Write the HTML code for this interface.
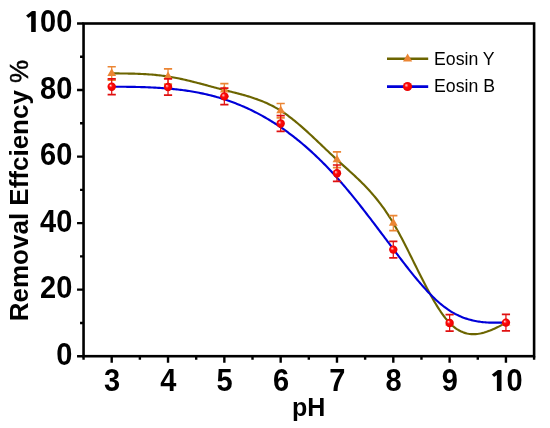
<!DOCTYPE html>
<html><head><meta charset="utf-8"><style>
html,body{margin:0;padding:0;background:#fff;width:550px;height:428px;overflow:hidden}
svg{display:block}
.tl{font-family:"Liberation Sans",Arial,sans-serif;font-weight:bold;font-size:29px;fill:#000}
.al{font-family:"Liberation Sans",Arial,sans-serif;font-weight:bold;font-size:25px;fill:#000}
.o1{font-family:"NanumGothic","Liberation Sans",sans-serif;font-weight:800;font-size:27.1px;fill:#000}
.lg{font-family:"Liberation Sans",Arial,sans-serif;font-size:17.7px;fill:#000}
</style></head><body>
<svg width="550" height="428" viewBox="0 0 550 428">
<defs><radialGradient id="rg" cx="0.5" cy="0.5" r="0.55" fx="0.34" fy="0.34"><stop offset="0" stop-color="#fff0f0"/><stop offset="0.16" stop-color="#ff8080"/><stop offset="0.38" stop-color="#ff0a0a"/><stop offset="1" stop-color="#e40000"/></radialGradient></defs>
<rect width="550" height="428" fill="#fff"/>
<path d="M111.71,73.40 L113.12,73.41 L114.53,73.42 L115.93,73.42 L117.34,73.43 L118.75,73.44 L120.16,73.45 L121.57,73.46 L122.97,73.48 L124.38,73.49 L125.79,73.51 L127.20,73.53 L128.60,73.56 L130.01,73.58 L131.42,73.61 L132.83,73.65 L134.24,73.69 L135.64,73.73 L137.05,73.78 L138.46,73.83 L139.87,73.88 L141.28,73.95 L142.68,74.01 L144.09,74.09 L145.50,74.17 L146.91,74.25 L148.32,74.35 L149.72,74.45 L151.13,74.55 L152.54,74.67 L153.95,74.79 L155.36,74.92 L156.76,75.06 L158.17,75.21 L159.58,75.36 L160.99,75.53 L162.40,75.70 L163.80,75.89 L165.21,76.08 L166.62,76.28 L168.03,76.50 L169.44,76.72 L170.84,76.96 L172.25,77.20 L173.66,77.46 L175.07,77.72 L176.48,78.00 L177.88,78.28 L179.29,78.57 L180.70,78.87 L182.11,79.17 L183.52,79.48 L184.92,79.80 L186.33,80.13 L187.74,80.46 L189.15,80.80 L190.56,81.14 L191.96,81.49 L193.37,81.84 L194.78,82.20 L196.19,82.56 L197.60,82.92 L199.00,83.29 L200.41,83.66 L201.82,84.03 L203.23,84.40 L204.64,84.78 L206.04,85.16 L207.45,85.54 L208.86,85.92 L210.27,86.30 L211.68,86.68 L213.08,87.06 L214.49,87.44 L215.90,87.81 L217.31,88.19 L218.72,88.57 L220.12,88.94 L221.53,89.31 L222.94,89.68 L224.35,90.04 L225.75,90.40 L227.16,90.76 L228.57,91.12 L229.98,91.47 L231.39,91.83 L232.79,92.18 L234.20,92.54 L235.61,92.90 L237.02,93.26 L238.43,93.63 L239.83,94.00 L241.24,94.38 L242.65,94.76 L244.06,95.15 L245.47,95.55 L246.87,95.96 L248.28,96.38 L249.69,96.81 L251.10,97.25 L252.51,97.70 L253.91,98.17 L255.32,98.65 L256.73,99.14 L258.14,99.65 L259.55,100.18 L260.95,100.73 L262.36,101.29 L263.77,101.87 L265.18,102.48 L266.59,103.10 L267.99,103.74 L269.40,104.41 L270.81,105.10 L272.22,105.82 L273.63,106.56 L275.03,107.33 L276.44,108.12 L277.85,108.94 L279.26,109.79 L280.67,110.67 L282.07,111.58 L283.48,112.51 L284.89,113.48 L286.30,114.47 L287.71,115.49 L289.11,116.53 L290.52,117.60 L291.93,118.69 L293.34,119.80 L294.75,120.94 L296.15,122.09 L297.56,123.26 L298.97,124.45 L300.38,125.66 L301.79,126.88 L303.19,128.12 L304.60,129.38 L306.01,130.64 L307.42,131.92 L308.82,133.21 L310.23,134.51 L311.64,135.81 L313.05,137.13 L314.46,138.45 L315.86,139.78 L317.27,141.11 L318.68,142.45 L320.09,143.79 L321.50,145.14 L322.90,146.48 L324.31,147.82 L325.72,149.16 L327.13,150.50 L328.54,151.84 L329.94,153.17 L331.35,154.50 L332.76,155.82 L334.17,157.14 L335.58,158.44 L336.98,159.74 L338.39,161.03 L339.80,162.31 L341.21,163.58 L342.62,164.85 L344.02,166.11 L345.43,167.38 L346.84,168.64 L348.25,169.91 L349.66,171.19 L351.06,172.47 L352.47,173.75 L353.88,175.05 L355.29,176.36 L356.70,177.69 L358.10,179.03 L359.51,180.39 L360.92,181.77 L362.33,183.16 L363.74,184.59 L365.14,186.03 L366.55,187.51 L367.96,189.01 L369.37,190.55 L370.78,192.11 L372.18,193.71 L373.59,195.35 L375.00,197.03 L376.41,198.74 L377.82,200.50 L379.22,202.30 L380.63,204.15 L382.04,206.04 L383.45,207.98 L384.86,209.98 L386.26,212.03 L387.67,214.13 L389.08,216.29 L390.49,218.50 L391.90,220.78 L393.30,223.12 L394.71,225.52 L396.12,227.99 L397.53,230.50 L398.94,233.07 L400.34,235.69 L401.75,238.35 L403.16,241.04 L404.57,243.77 L405.97,246.53 L407.38,249.31 L408.79,252.12 L410.20,254.94 L411.61,257.77 L413.01,260.61 L414.42,263.46 L415.83,266.30 L417.24,269.14 L418.65,271.97 L420.05,274.78 L421.46,277.58 L422.87,280.35 L424.28,283.09 L425.69,285.81 L427.09,288.49 L428.50,291.12 L429.91,293.72 L431.32,296.26 L432.73,298.75 L434.13,301.19 L435.54,303.56 L436.95,305.87 L438.36,308.10 L439.77,310.26 L441.17,312.35 L442.58,314.34 L443.99,316.25 L445.40,318.07 L446.81,319.79 L448.21,321.41 L449.62,322.93 L451.07,324.37 L452.51,325.70 L453.95,326.92 L455.40,328.03 L456.84,329.04 L458.29,329.95 L459.73,330.77 L461.17,331.48 L462.62,332.11 L464.06,332.65 L465.51,333.10 L466.95,333.47 L468.39,333.75 L469.84,333.97 L471.28,334.10 L472.73,334.17 L474.17,334.17 L475.62,334.10 L477.06,333.98 L478.50,333.79 L479.95,333.55 L481.39,333.25 L482.84,332.90 L484.28,332.51 L485.72,332.07 L487.17,331.59 L488.61,331.07 L490.06,330.52 L491.50,329.93 L492.94,329.32 L494.39,328.67 L495.83,328.01 L497.28,327.32 L498.72,326.62 L500.16,325.90 L501.61,325.16 L503.05,324.42 L504.50,323.68 L505.94,322.93" fill="none" stroke="#6c6500" stroke-width="2.15" stroke-linejoin="round"/>
<path d="M111.71,86.71 L111.71,86.71 L111.71,86.71 L111.71,86.71 L111.72,86.71 L111.73,86.71 L111.74,86.71 L111.76,86.71 L111.78,86.71 L111.82,86.71 L111.86,86.71 L111.90,86.71 L111.96,86.71 L112.03,86.71 L112.11,86.72 L112.20,86.72 L112.31,86.72 L112.43,86.72 L112.56,86.72 L112.72,86.72 L112.88,86.72 L113.07,86.72 L113.27,86.72 L113.49,86.72 L113.74,86.72 L114.00,86.73 L114.29,86.73 L114.60,86.73 L114.93,86.73 L115.29,86.73 L115.67,86.74 L116.08,86.74 L116.52,86.74 L116.98,86.74 L117.47,86.75 L118.00,86.75 L118.55,86.75 L119.14,86.76 L119.76,86.76 L120.41,86.76 L121.10,86.77 L121.82,86.77 L122.57,86.78 L123.36,86.78 L124.18,86.79 L125.04,86.79 L125.92,86.80 L126.84,86.81 L127.78,86.82 L128.75,86.83 L129.75,86.84 L130.77,86.86 L131.82,86.87 L132.90,86.89 L134.00,86.91 L135.12,86.93 L136.26,86.95 L137.43,86.98 L138.61,87.01 L139.82,87.04 L141.04,87.07 L142.28,87.11 L143.54,87.15 L144.81,87.19 L146.10,87.24 L147.40,87.29 L148.72,87.34 L150.05,87.40 L151.39,87.46 L152.74,87.53 L154.10,87.60 L155.46,87.67 L156.84,87.75 L158.22,87.83 L159.61,87.92 L161.01,88.01 L162.41,88.10 L163.81,88.21 L165.21,88.31 L166.62,88.43 L168.03,88.54 L169.44,88.67 L170.84,88.80 L172.25,88.93 L173.66,89.07 L175.07,89.22 L176.48,89.37 L177.88,89.53 L179.29,89.70 L180.70,89.87 L182.11,90.05 L183.52,90.24 L184.92,90.43 L186.33,90.64 L187.74,90.84 L189.15,91.06 L190.56,91.29 L191.96,91.52 L193.37,91.76 L194.78,92.01 L196.19,92.26 L197.60,92.53 L199.00,92.80 L200.41,93.08 L201.82,93.37 L203.23,93.67 L204.64,93.98 L206.04,94.30 L207.45,94.62 L208.86,94.96 L210.27,95.31 L211.68,95.66 L213.08,96.03 L214.49,96.40 L215.90,96.79 L217.31,97.19 L218.72,97.59 L220.12,98.01 L221.53,98.44 L222.94,98.88 L224.35,99.33 L225.75,99.79 L227.16,100.26 L228.57,100.74 L229.98,101.24 L231.39,101.75 L232.79,102.26 L234.20,102.79 L235.61,103.33 L237.02,103.89 L238.43,104.45 L239.83,105.03 L241.24,105.62 L242.65,106.22 L244.06,106.83 L245.47,107.45 L246.87,108.09 L248.28,108.74 L249.69,109.40 L251.10,110.07 L252.51,110.76 L253.91,111.46 L255.32,112.17 L256.73,112.90 L258.14,113.63 L259.55,114.39 L260.95,115.15 L262.36,115.93 L263.77,116.72 L265.18,117.52 L266.59,118.33 L267.99,119.16 L269.40,120.01 L270.81,120.86 L272.22,121.73 L273.63,122.62 L275.03,123.52 L276.44,124.43 L277.85,125.35 L279.26,126.29 L280.67,127.25 L282.07,128.21 L283.48,129.20 L284.89,130.19 L286.30,131.20 L287.71,132.23 L289.11,133.27 L290.52,134.32 L291.93,135.39 L293.34,136.47 L294.75,137.57 L296.15,138.68 L297.56,139.81 L298.97,140.95 L300.38,142.11 L301.79,143.28 L303.19,144.47 L304.60,145.67 L306.01,146.89 L307.42,148.12 L308.82,149.37 L310.23,150.64 L311.64,151.92 L313.05,153.21 L314.46,154.52 L315.86,155.85 L317.27,157.19 L318.68,158.55 L320.09,159.92 L321.50,161.31 L322.90,162.71 L324.31,164.13 L325.72,165.57 L327.13,167.02 L328.54,168.49 L329.94,169.98 L331.35,171.48 L332.76,173.00 L334.17,174.54 L335.58,176.09 L336.98,177.66 L338.39,179.24 L339.80,180.84 L341.21,182.46 L342.62,184.09 L344.02,185.74 L345.43,187.40 L346.84,189.07 L348.25,190.76 L349.66,192.46 L351.06,194.18 L352.47,195.90 L353.88,197.64 L355.29,199.39 L356.70,201.15 L358.10,202.92 L359.51,204.70 L360.92,206.49 L362.33,208.28 L363.74,210.09 L365.14,211.90 L366.55,213.72 L367.96,215.55 L369.37,217.38 L370.78,219.22 L372.18,221.07 L373.59,222.92 L375.00,224.77 L376.41,226.63 L377.82,228.49 L379.22,230.36 L380.63,232.23 L382.04,234.10 L383.45,235.97 L384.86,237.85 L386.26,239.72 L387.67,241.60 L389.08,243.47 L390.49,245.35 L391.90,247.22 L393.30,249.09 L394.71,250.96 L396.12,252.83 L397.53,254.69 L398.94,256.55 L400.34,258.40 L401.75,260.25 L403.16,262.08 L404.57,263.91 L405.97,265.72 L407.38,267.53 L408.79,269.32 L410.20,271.09 L411.61,272.86 L413.01,274.60 L414.42,276.33 L415.83,278.04 L417.24,279.73 L418.65,281.40 L420.05,283.04 L421.46,284.67 L422.87,286.27 L424.28,287.84 L425.69,289.39 L427.09,290.91 L428.50,292.41 L429.91,293.87 L431.32,295.31 L432.73,296.71 L434.13,298.08 L435.54,299.41 L436.95,300.71 L438.36,301.97 L439.77,303.20 L441.17,304.39 L442.58,305.54 L443.99,306.65 L445.40,307.71 L446.81,308.74 L448.21,309.72 L449.62,310.65 L451.03,311.54 L452.44,312.39 L453.84,313.19 L455.24,313.95 L456.64,314.66 L458.04,315.34 L459.43,315.98 L460.81,316.58 L462.19,317.14 L463.55,317.67 L464.91,318.16 L466.26,318.62 L467.60,319.05 L468.93,319.44 L470.25,319.81 L471.55,320.15 L472.84,320.46 L474.11,320.74 L475.37,321.00 L476.61,321.24 L477.83,321.45 L479.04,321.64 L480.22,321.81 L481.39,321.96 L482.53,322.09 L483.65,322.20 L484.75,322.30 L485.83,322.38 L486.88,322.45 L487.90,322.51 L488.90,322.56 L489.87,322.59 L490.81,322.62 L491.73,322.64 L492.61,322.65 L493.47,322.66 L494.29,322.66 L495.08,322.66 L495.83,322.66 L496.55,322.65 L497.24,322.65 L497.89,322.64 L498.51,322.64 L499.10,322.64 L499.65,322.63 L500.18,322.63 L500.67,322.63 L501.13,322.63 L501.57,322.62 L501.98,322.62 L502.36,322.62 L502.72,322.62 L503.05,322.61 L503.36,322.61 L503.65,322.61 L503.91,322.61 L504.16,322.61 L504.38,322.61 L504.58,322.61 L504.77,322.60 L504.93,322.60 L505.09,322.60 L505.22,322.60 L505.34,322.60 L505.45,322.60 L505.54,322.60 L505.62,322.60 L505.69,322.60 L505.75,322.60 L505.79,322.60 L505.83,322.60 L505.87,322.60 L505.89,322.60 L505.91,322.60 L505.92,322.60 L505.93,322.60 L505.94,322.60 L505.94,322.60 L505.94,322.60 L505.94,322.60" fill="none" stroke="#0000d8" stroke-width="2.15" stroke-linejoin="round"/>
<path d="M111.71,66.75 V80.06" stroke="#eb8533" stroke-width="1.25" fill="none"/><path d="M107.61,66.75 H115.81 M107.61,80.06 H115.81" stroke="#eb8533" stroke-width="1.7" fill="none"/>
<path d="M111.71,68.32 L116.11,75.95 L107.31,75.95 Z" fill="#eb8533"/>
<path d="M168.03,68.85 V84.15" stroke="#eb8533" stroke-width="1.25" fill="none"/><path d="M163.93,68.85 H172.13 M163.93,84.15 H172.13" stroke="#eb8533" stroke-width="1.7" fill="none"/>
<path d="M168.03,71.42 L172.43,79.04 L163.63,79.04 Z" fill="#eb8533"/>
<path d="M224.35,83.62 V96.46" stroke="#eb8533" stroke-width="1.25" fill="none"/><path d="M220.25,83.62 H228.45 M220.25,96.46 H228.45" stroke="#eb8533" stroke-width="1.7" fill="none"/>
<path d="M224.35,84.96 L228.75,92.58 L219.95,92.58 Z" fill="#eb8533"/>
<path d="M280.67,103.51 V117.82" stroke="#eb8533" stroke-width="1.25" fill="none"/><path d="M276.57,103.51 H284.77 M276.57,117.82 H284.77" stroke="#eb8533" stroke-width="1.7" fill="none"/>
<path d="M280.67,105.59 L285.07,113.21 L276.27,113.21 Z" fill="#eb8533"/>
<path d="M336.98,151.92 V167.56" stroke="#eb8533" stroke-width="1.25" fill="none"/><path d="M332.88,151.92 H341.08 M332.88,167.56 H341.08" stroke="#eb8533" stroke-width="1.7" fill="none"/>
<path d="M336.98,154.66 L341.38,162.28 L332.58,162.28 Z" fill="#eb8533"/>
<path d="M393.30,215.53 V230.71" stroke="#eb8533" stroke-width="1.25" fill="none"/><path d="M389.20,215.53 H397.40 M389.20,230.71 H397.40" stroke="#eb8533" stroke-width="1.7" fill="none"/>
<path d="M393.30,218.04 L397.70,225.66 L388.90,225.66 Z" fill="#eb8533"/>
<path d="M449.62,317.85 L454.02,325.47 L445.22,325.47 Z" fill="#eb8533"/>
<path d="M505.94,317.85 L510.34,325.47 L501.54,325.47 Z" fill="#eb8533"/>
<path d="M111.71,78.86 V94.56" stroke="#e01010" stroke-width="1.25" fill="none"/><path d="M107.61,78.86 H115.81 M107.61,94.56 H115.81" stroke="#e01010" stroke-width="1.7" fill="none"/>
<circle cx="111.71" cy="86.71" r="4.2" fill="url(#rg)"/>
<path d="M168.03,78.93 V95.16" stroke="#e01010" stroke-width="1.25" fill="none"/><path d="M163.93,78.93 H172.13 M163.93,95.16 H172.13" stroke="#e01010" stroke-width="1.7" fill="none"/>
<circle cx="168.03" cy="87.05" r="4.2" fill="url(#rg)"/>
<path d="M224.35,88.04 V104.68" stroke="#e01010" stroke-width="1.25" fill="none"/><path d="M220.25,88.04 H228.45 M220.25,104.68 H228.45" stroke="#e01010" stroke-width="1.7" fill="none"/>
<circle cx="224.35" cy="96.36" r="4.2" fill="url(#rg)"/>
<path d="M280.67,115.62 V131.33" stroke="#e01010" stroke-width="1.25" fill="none"/><path d="M276.57,115.62 H284.77 M276.57,131.33 H284.77" stroke="#e01010" stroke-width="1.7" fill="none"/>
<circle cx="280.67" cy="123.48" r="4.2" fill="url(#rg)"/>
<path d="M336.98,165.00 V181.43" stroke="#e01010" stroke-width="1.25" fill="none"/><path d="M332.88,165.00 H341.08 M332.88,181.43 H341.08" stroke="#e01010" stroke-width="1.7" fill="none"/>
<circle cx="336.98" cy="173.21" r="4.2" fill="url(#rg)"/>
<path d="M393.30,241.39 V257.82" stroke="#e01010" stroke-width="1.25" fill="none"/><path d="M389.20,241.39 H397.40 M389.20,257.82 H397.40" stroke="#e01010" stroke-width="1.7" fill="none"/>
<circle cx="393.30" cy="249.60" r="4.2" fill="url(#rg)"/>
<path d="M449.62,314.71 V331.15" stroke="#e01010" stroke-width="1.25" fill="none"/><path d="M445.52,314.71 H453.72 M445.52,331.15 H453.72" stroke="#e01010" stroke-width="1.7" fill="none"/>
<circle cx="449.62" cy="322.93" r="4.2" fill="url(#rg)"/>
<path d="M505.94,314.28 V330.91" stroke="#e01010" stroke-width="1.25" fill="none"/><path d="M501.84,314.28 H510.04 M501.84,330.91 H510.04" stroke="#e01010" stroke-width="1.7" fill="none"/>
<circle cx="505.94" cy="322.60" r="4.2" fill="url(#rg)"/>
<rect x="83.55" y="23.50" width="450.55" height="332.70" fill="none" stroke="#000" stroke-width="2.6"/>
<path d="M83.55,356.20 H77.05 M83.55,322.93 H80.05 M83.55,289.66 H77.05 M83.55,256.39 H80.05 M83.55,223.12 H77.05 M83.55,189.85 H80.05 M83.55,156.58 H77.05 M83.55,123.31 H80.05 M83.55,90.04 H77.05 M83.55,56.77 H80.05 M83.55,23.50 H77.05 M83.55,356.20 V359.70 M111.71,356.20 V362.70 M139.87,356.20 V359.70 M168.03,356.20 V362.70 M196.19,356.20 V359.70 M224.35,356.20 V362.70 M252.51,356.20 V359.70 M280.67,356.20 V362.70 M308.82,356.20 V359.70 M336.98,356.20 V362.70 M365.14,356.20 V359.70 M393.30,356.20 V362.70 M421.46,356.20 V359.70 M449.62,356.20 V362.70 M477.78,356.20 V359.70 M505.94,356.20 V362.70 M534.10,356.20 V359.70" stroke="#000" stroke-width="2.4" fill="none"/>
<text transform="translate(72.3,365.00) scale(1,1.05)" text-anchor="end" class="tl">0</text>
<text transform="translate(72.3,298.46) scale(1,1.05)" text-anchor="end" class="tl">20</text>
<text transform="translate(72.3,231.92) scale(1,1.05)" text-anchor="end" class="tl">40</text>
<text transform="translate(72.3,165.38) scale(1,1.05)" text-anchor="end" class="tl">60</text>
<text transform="translate(72.3,98.84) scale(1,1.05)" text-anchor="end" class="tl">80</text>
<text transform="translate(72.3,32.30) scale(1,1.05)" text-anchor="end" class="tl">00</text>
<text transform="translate(22.4,32.0) scale(1.25,1)" class="o1">1</text>
<text transform="translate(112.01,391.1) scale(1,1.05)" text-anchor="middle" class="tl">3</text>
<text transform="translate(168.33,391.1) scale(1,1.05)" text-anchor="middle" class="tl">4</text>
<text transform="translate(224.65,391.1) scale(1,1.05)" text-anchor="middle" class="tl">5</text>
<text transform="translate(280.97,391.1) scale(1,1.05)" text-anchor="middle" class="tl">6</text>
<text transform="translate(337.28,391.1) scale(1,1.05)" text-anchor="middle" class="tl">7</text>
<text transform="translate(393.60,391.1) scale(1,1.05)" text-anchor="middle" class="tl">8</text>
<text transform="translate(449.92,391.1) scale(1,1.05)" text-anchor="middle" class="tl">9</text>
<text transform="translate(506.4,391.1) scale(1,1.05)" class="tl">0</text>
<text transform="translate(488.3,391.0) scale(1.25,1)" class="o1">1</text>
<text transform="translate(28.3,190.5) rotate(-90)" text-anchor="middle" class="al" textLength="261.5" lengthAdjust="spacingAndGlyphs">Removal Effciency <tspan style="font-weight:normal;stroke:#000;stroke-width:0.45px">%</tspan></text>
<text x="308.6" y="415.6" text-anchor="middle" class="al">pH</text>
<path d="M387,58.7 H428.2" stroke="#6c6500" stroke-width="2.6"/>
<path d="M407.60,53.49 L412.20,61.46 L403.00,61.46 Z" fill="#eb8533"/>
<path d="M387,86.6 H428.2" stroke="#0000d8" stroke-width="2.6"/>
<circle cx="407.50" cy="86.50" r="4.6" fill="url(#rg)"/>
<text x="434" y="65.2" class="lg">Eosin Y</text>
<text x="434" y="92.2" class="lg">Eosin B</text>
</svg>
</body></html>
